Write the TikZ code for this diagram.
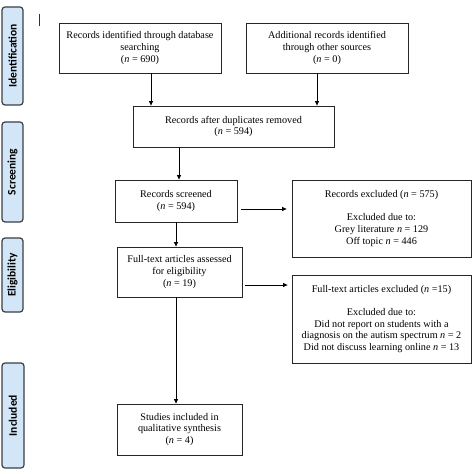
\documentclass[tikz,border=0pt]{standalone}
\usepackage{fontspec}
\setmainfont{Liberation Serif}
\newfontfamily\labfont{Carlito}
\usetikzlibrary{arrows.meta}
\definecolor{labblue}{HTML}{D3E6F8}
\definecolor{labedge}{HTML}{3A3F45}
\tikzset{
  box/.style={draw=black!85, line width=0.8bp, fill=white, align=center, inner sep=1bp,
    font=\fontsize{10.2bp}{11.7bp}\selectfont},
  phase/.style={draw=labedge, line width=1.2bp, fill=labblue, rounded corners=3bp, rotate=90,
    inner sep=0pt, font=\labfont\bfseries\fontsize{11.5bp}{12bp}\selectfont},
  arr/.style={-{Triangle[length=4.5bp,width=4bp]}, line width=0.8bp, black}
}
\begin{document}
\begin{tikzpicture}[x=1bp,y=-1bp]
\useasboundingbox (0,0) rectangle (474,474);
% phase labels
\node[phase, minimum width=98bp, minimum height=21bp] (pid) at (12.5,56) {Identification};
\node[phase, minimum width=100bp, minimum height=21bp] (psc) at (12.5,172) {Screening};
\node[phase, minimum width=74bp, minimum height=21bp] (pel) at (12.5,275) {Eligibility};
\node[phase, minimum width=105bp, minimum height=22bp] (pin) at (13,415.5) {Included};
% stray mark
\coordinate (m1) at (39,14);
\coordinate (m2) at (39,26);
\draw[line width=0.8bp, black!80] (m1) -- (m2);
% boxes
\node[box, minimum width=162bp, minimum height=50bp] (b1) at (140,48)
  {Records identified through database\\searching\\(\textit{n} = 690)};
\node[box, minimum width=162bp, minimum height=50bp] (b2) at (327,48)
  {Additional records identified\\through other sources\\(\textit{n} = 0)};
\node[box, minimum width=201bp, minimum height=41bp] (b3) at (233.5,126.5)
  {Records after duplicates removed\\(\textit{n} = 594)};
\node[box, minimum width=122bp, minimum height=42bp] (scr) at (176,201)
  {Records screened\\(\textit{n} = 594)};
\node[box, minimum width=179bp, minimum height=77bp] (ex1) at (381.5,218.5)
  {Records excluded (\textit{n} = 575)\\[11.7bp]Excluded due to:\\Grey literature \textit{n} = 129\\Off topic \textit{n} = 446};
\node[box, minimum width=125bp, minimum height=50bp] (ft) at (179.5,272)
  {Full-text articles assessed\\for eligibility\\(\textit{n} = 19)};
\node[box, minimum width=179bp, minimum height=88bp] (ex2) at (381.5,319)
  {Full-text articles excluded (\textit{n} =15)\\[11.7bp]Excluded due to:\\Did not report on students with a\\diagnosis on the autism spectrum \textit{n} = 2\\Did not discuss learning online \textit{n} = 13};
\node[box, minimum width=125bp, minimum height=51bp] (inc) at (179.5,429.5)
  {Studies included in\\qualitative synthesis\\(\textit{n} = 4)};
% arrows
\draw[arr] ([xshift=11bp]b1.south) -- ([xshift=11bp]b1.south |- b3.north);
\draw[arr] ([xshift=-10bp]b2.south) -- ([xshift=-10bp]b2.south |- b3.north);
\draw[arr] ([xshift=3bp]scr.north |- b3.south) -- ([xshift=3bp]scr.north);
\draw[arr] (scr.south) -- (scr.south |- ft.north);
\draw[arr] ([xshift=-3.5bp]ft.south) -- ([xshift=-3.5bp]inc.north);
\draw[arr, shorten <=4bp, shorten >=5bp] ([yshift=-8bp]scr.east) -- ([yshift=-8bp]scr.east -| ex1.west);
\draw[arr, shorten <=3bp, shorten >=4bp] ([yshift=-13bp]ft.east) -- ([yshift=-13bp]ft.east -| ex2.west);
\end{tikzpicture}
\end{document}
